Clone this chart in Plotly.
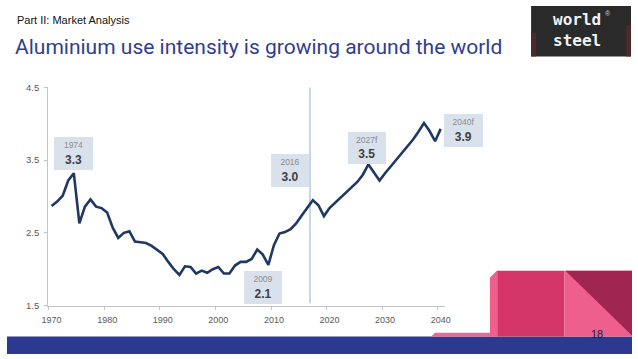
import plotly.graph_objects as go

# ---------------- data ----------------
years = list(range(1970, 2041))
intensity = [
    2.87, 2.93, 3.01, 3.22, 3.32, 2.63, 2.86, 2.96, 2.86, 2.84,   # 1970-1979
    2.78, 2.57, 2.43, 2.50, 2.52, 2.38, 2.37, 2.36, 2.32, 2.27,   # 1980-1989
    2.21, 2.10, 2.00, 1.92, 2.04, 2.03, 1.94, 1.98, 1.95, 2.00,   # 1990-1999
    2.03, 1.94, 1.94, 2.05, 2.10, 2.10, 2.14, 2.27, 2.20, 2.06,   # 2000-2009
    2.33, 2.49, 2.51, 2.55, 2.63, 2.74, 2.85, 2.95, 2.88, 2.73,   # 2010-2019
    2.84, 2.91, 2.98, 3.05, 3.12, 3.20, 3.30, 3.44, 3.33, 3.22,   # 2020-2029
    3.32, 3.41, 3.50, 3.59, 3.68, 3.78, 3.89, 4.01, 3.90, 3.76,   # 2030-2039
    3.93,                                                         # 2040
]
x_tick_years = [1970, 1980, 1990, 2000, 2010, 2020, 2030, 2040]
y_ticks = [1.5, 2.5, 3.5, 4.5]
label_years = ["1974", "2016", "2009", "2027f", "2040f"]
label_values = ["3.3", "3.0", "2.1", "3.5", "3.9"]
forecast_start = 2016.5

# ---------------- layout helpers (pixel -> paper) ----------------
W, H = 638, 359
def px(x):
    return x / W
def py(y):
    return 1 - y / H

# label box placement (pixel centres, sizes)
box_pos = [(67.5, 152.5, 39, 33), (289, 169.5, 38, 33), (261, 290, 38, 33),
           (367, 146, 38, 32), (465.5, 128.5, 39, 33)]

LINE = "#1f3864"
AXIS = "#c4c4c4"
TICKFONT = dict(family="Liberation Sans, Arial, sans-serif", size=9, color="#595959")

fig = go.Figure()
fig.add_trace(go.Scatter(x=years, y=intensity, mode="lines",
                         line=dict(color=LINE, width=2.6), hoverinfo="skip"))
# helper trace so the boundary-tick axis is drawn
fig.add_trace(go.Scatter(x=years, y=intensity, mode="lines", xaxis="x2",
                         line=dict(color="rgba(0,0,0,0)", width=0), hoverinfo="skip"))

shapes = []
# forecast divider
shapes.append(dict(type="line", xref="x", yref="y", x0=forecast_start, x1=forecast_start,
                   y0=y_ticks[0] + 0.03, y1=y_ticks[-1] + 0.02,
                   line=dict(color="#b8c9dc", width=1.5), layer="below"))
# logo background
shapes.append(dict(type="rect", xref="paper", yref="paper", x0=px(535), x1=px(637),
                   y0=py(52), y1=py(0), fillcolor="#2a2a2a", line=dict(width=0)))
shapes.append(dict(type="rect", xref="paper", yref="paper", x0=px(535), x1=px(540),
                   y0=py(52), y1=py(28), fillcolor="#4a2a2c", line=dict(width=0)))
shapes.append(dict(type="rect", xref="paper", yref="paper", x0=px(632), x1=px(637),
                   y0=py(52), y1=py(20), fillcolor="#4a2a2c", line=dict(width=0)))
# bottom bar
shapes.append(dict(type="rect", xref="paper", yref="paper", x0=0, x1=1,
                   y0=0, y1=py(341), fillcolor="#2b3a8f", line=dict(width=0)))
# pink decoration
def path(pts):
    return "M " + " L ".join(f"{px(a):.5f},{py(b):.5f}" for a, b in pts) + " Z"
shapes.append(dict(type="path", xref="paper", yref="paper",
                   path=path([(433, 341), (437, 337), (495, 337), (495, 341)]),
                   fillcolor="#e9679a", line=dict(width=0)))
shapes.append(dict(type="path", xref="paper", yref="paper",
                   path=path([(493, 341), (493, 280), (500, 273), (502, 273), (502, 341)]),
                   fillcolor="#ef5f8d", line=dict(width=0)))
shapes.append(dict(type="rect", xref="paper", yref="paper", x0=px(501), x1=px(569),
                   y0=py(341), y1=py(273), fillcolor="#d4366a", line=dict(width=0)))
shapes.append(dict(type="rect", xref="paper", yref="paper", x0=px(569), x1=1,
                   y0=py(341), y1=py(273), fillcolor="#ef5f8d", line=dict(width=0)))
shapes.append(dict(type="path", xref="paper", yref="paper",
                   path=path([(570, 273), (638, 273), (638, 340)]),
                   fillcolor="#a02550", line=dict(width=0)))

annotations = []
for (cx, cy, w, h), yr, val in zip(box_pos, label_years, label_values):
    annotations.append(dict(
        xref="paper", yref="paper", x=px(cx), y=py(cy), xanchor="center", yanchor="middle",
        width=w, height=h, bgcolor="#d9e2ec", borderpad=0, borderwidth=0, showarrow=False,
        text=f"<span style='font-size:8.5px;color:#8c8c8c'>{yr}</span><br><b>{val}</b>",
        font=dict(family="Liberation Sans, Arial, sans-serif", size=12, color="#404040"),
        align="center", valign="middle"))

annotations += [
    dict(xref="paper", yref="paper", x=px(8), y=py(14), xanchor="left", yanchor="middle",
         text="Part II: Market Analysis", showarrow=False,
         font=dict(family="Liberation Sans, Arial, sans-serif", size=11, color="#111111")),
    dict(xref="paper", yref="paper", x=px(6), y=py(42), xanchor="left", yanchor="middle",
         text="Aluminium use intensity is growing around the world", showarrow=False,
         font=dict(family="Roboto, sans-serif", size=21, color="#2f3e8e")),
    dict(xref="paper", yref="paper", x=px(582), y=py(25), xanchor="center", yanchor="middle",
         text="<b>world</b><br><b>steel</b>", showarrow=False,
         font=dict(family="DejaVu Sans Mono, monospace", size=16, color="#f2f2f2")),
    dict(xref="paper", yref="paper", x=px(614), y=py(8), xanchor="center", yanchor="middle",
         text="®", showarrow=False,
         font=dict(family="Liberation Sans, Arial, sans-serif", size=7, color="#cccccc")),
    dict(xref="paper", yref="paper", x=px(602), y=py(338), xanchor="center", yanchor="middle",
         text="18", showarrow=False,
         font=dict(family="Liberation Sans, Arial, sans-serif", size=11, color="#222222")),
]

xr = [1969.383, 2040.76]
fig.update_layout(
    width=W, height=H, autosize=False,
    margin=dict(l=0, r=0, t=0, b=0),
    paper_bgcolor="white", plot_bgcolor="white", showlegend=False,
    shapes=shapes, annotations=annotations,
    xaxis=dict(domain=[px(42), px(447)], range=xr, tickmode="array",
               tickvals=x_tick_years, ticktext=[str(v) for v in x_tick_years],
               ticks="outside", ticklen=6, tickcolor="rgba(0,0,0,0)",
               showline=True, linecolor=AXIS, linewidth=1, showgrid=False, zeroline=False,
               tickfont=TICKFONT, fixedrange=True),
    xaxis2=dict(overlaying="x", matches="x", anchor="y", side="bottom", range=xr,
                tickmode="array", tickvals=[v - 0.5 for v in x_tick_years],
                ticks="outside", ticklen=3, tickcolor=AXIS, showticklabels=False,
                showline=False, showgrid=False, zeroline=False),
    yaxis=dict(domain=[py(309), py(84)], range=[1.5, 4.5], tickmode="array",
               tickvals=y_ticks, ticktext=[f"{v:.1f}" for v in y_ticks],
               ticks="outside", ticklen=3, tickcolor=AXIS,
               showline=True, linecolor=AXIS, linewidth=1, showgrid=False, zeroline=False,
               tickfont=dict(family="Liberation Sans, Arial, sans-serif", size=9.5, color="#595959"),
               ticklabelstandoff=3, fixedrange=True),
)

fig.write_html("out.html", config={"displayModeBar": False},
               post_script="document.body.style.margin='0';document.body.style.overflow='hidden';")
